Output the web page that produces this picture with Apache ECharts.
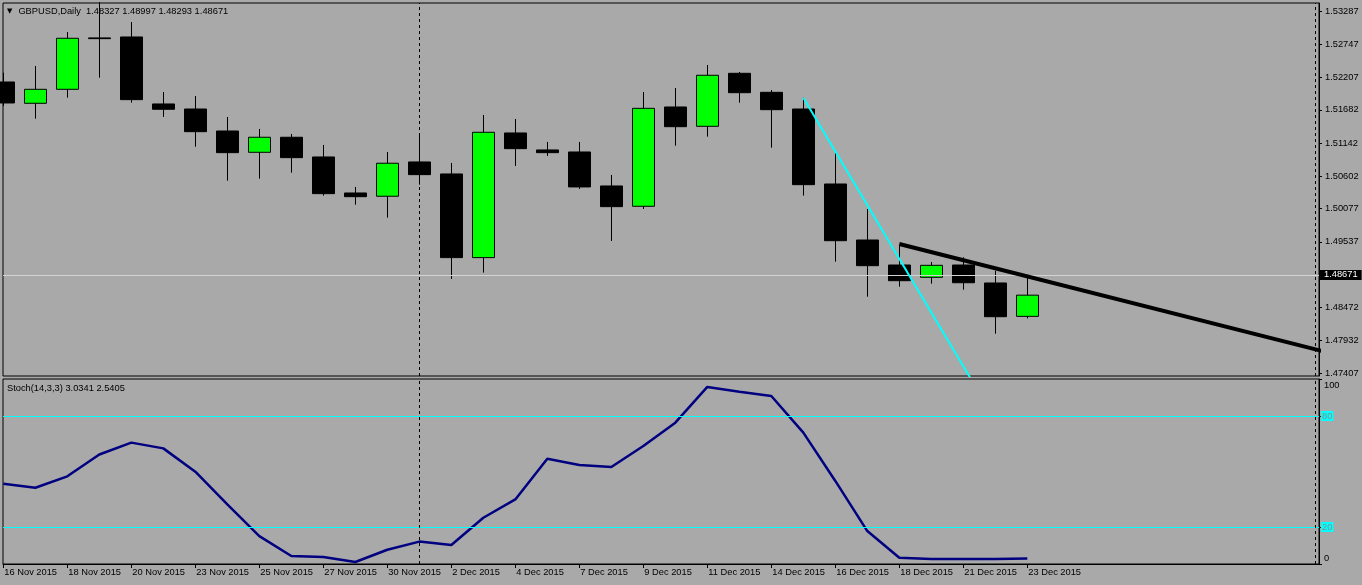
<!DOCTYPE html>
<html>
<head>
<meta charset="utf-8">
<script src="https://cdn.jsdelivr.net/npm/echarts@6/dist/echarts.min.js"></script>
<style>
html,body{margin:0;padding:0;background:#a9a9a9;}
#c{width:1362px;height:585px;}
</style>
</head>
<body>
<div id="c"></div>
<script>
// ---------- data ----------
const symbolName = 'GBPUSD,Daily';
const dates = ['16 Nov 2015','17 Nov 2015','18 Nov 2015','19 Nov 2015','20 Nov 2015','22 Nov 2015',
  '23 Nov 2015','24 Nov 2015','25 Nov 2015','26 Nov 2015','27 Nov 2015','29 Nov 2015','30 Nov 2015',
  '1 Dec 2015','2 Dec 2015','3 Dec 2015','4 Dec 2015','6 Dec 2015','7 Dec 2015','8 Dec 2015',
  '9 Dec 2015','10 Dec 2015','11 Dec 2015','13 Dec 2015','14 Dec 2015','15 Dec 2015','16 Dec 2015',
  '17 Dec 2015','18 Dec 2015','20 Dec 2015','21 Dec 2015','22 Dec 2015','23 Dec 2015'];
const opens  = [1.52134,1.51788,1.52015,1.52850,1.52865,1.51777,1.51695,1.51338,1.50992,1.51236,1.50916,
  1.50331,1.50278,1.50835,1.50640,1.49281,1.51306,1.51030,1.50997,1.50445,1.50115,1.51728,1.51414,
  1.52275,1.51966,1.51695,1.50477,1.49567,1.49161,1.48961,1.49161,1.48869,1.48327];
const highs  = [1.52285,1.52394,1.52946,1.53430,1.53108,1.51972,1.51907,1.51566,1.51371,1.51290,1.51111,
  1.50429,1.50997,1.51290,1.50819,1.51598,1.51533,1.51160,1.51160,1.50624,1.51972,1.52037,1.52410,
  1.52296,1.52004,1.51879,1.50980,1.50071,1.49486,1.49210,1.49286,1.49068,1.48997];
const lows   = [1.51744,1.51538,1.51879,1.52204,1.51798,1.51566,1.51083,1.50531,1.50564,1.50661,1.50288,
  1.50141,1.49930,1.50466,1.48935,1.49037,1.50770,1.50932,1.50396,1.49552,1.50071,1.51099,1.51246,
  1.51798,1.51066,1.50288,1.49215,1.48646,1.48809,1.48857,1.48760,1.48045,1.48293];
const closes = [1.51793,1.52015,1.52844,1.52838,1.51847,1.51691,1.51327,1.50986,1.51236,1.50905,1.50320,
  1.50271,1.50814,1.50629,1.49281,1.51317,1.51051,1.50986,1.50429,1.50109,1.51706,1.51408,1.52243,
  1.51960,1.51684,1.50466,1.49556,1.49150,1.48906,1.49156,1.48873,1.48321,1.48671];
const stochMain = [43.4,41.2,47.4,59.2,65.6,62.5,49.9,32.2,15.1,4.3,3.8,1.1,7.7,12.1,10.3,25.0,34.9,
  56.9,53.5,52.4,63.8,76.4,95.7,93.1,90.8,71.0,44.9,17.8,3.4,2.7,2.7,2.7,3.0341];
const stochSignalLast = 2.5405;
const stochLevels = [80, 20];
const stochTicks = [0, 20, 80, 100];
const priceTicks = [1.53287,1.52747,1.52207,1.51682,1.51142,1.50602,1.50077,1.49537,1.49012,1.48472,1.47932,1.47407];
const dateLabelIdx = [0,2,4,6,8,10,12,14,16,18,20,22,24,26,28,30,32];
const separators = [13, 41];
const trendCyan = [[25, 1.51879], [31, 1.46645]];
const trendBlack = [[28, 1.49502], [42, 1.47660]];
const priceMin = 1.47358, priceMax = 1.53417;
const xMin = -0.01, xMax = 41.115;

// ---------- chart ----------
const F = 'Liberation Sans';
const FS = 9.3;
const last = closes.length - 1;
const chart = echarts.init(document.getElementById('c'), null, {renderer: 'canvas'});
const candleData = dates.map((d, i) => [i, opens[i], closes[i], lows[i], highs[i]]);
const sepLines = separators.map(x => ({xAxis: x, lineStyle: {color: '#000', type: [3, 3], width: 1}, label: {show: false}}));

const option = {
  animation: false,
  backgroundColor: '#a9a9a9',
  title: [
    {left: 7, top: 7, padding: 0,
     text: '{tri|▼}' + symbolName + '  ' + [opens[last], highs[last], lows[last], closes[last]].map(v => v.toFixed(5)).join(' '),
     textStyle: {fontSize: FS, fontFamily: F, color: '#000', fontWeight: 'normal',
       rich: {tri: {fontSize: 7, fontFamily: 'DejaVu Sans', color: '#000', padding: [0, 6, 0, 0]}}}},
    {left: 7, top: 384, padding: 0,
     text: 'Stoch(14,3,3) ' + stochMain[last].toFixed(4) + ' ' + stochSignalLast.toFixed(4),
     textStyle: {fontSize: FS, fontFamily: F, color: '#000', fontWeight: 'normal'}}
  ],
  grid: [
    {left: 3, top: 3, width: 1316, height: 373, show: true, borderColor: '#000', borderWidth: 1, backgroundColor: 'transparent'},
    {left: 3, top: 379, width: 1316, height: 185, show: true, borderColor: '#000', borderWidth: 1, backgroundColor: 'transparent'}
  ],
  xAxis: [
    {type: 'value', gridIndex: 0, min: xMin, max: xMax, show: false},
    {type: 'value', gridIndex: 1, min: xMin, max: xMax,
     axisLine: {show: true, lineStyle: {color: '#000'}}, splitLine: {show: false},
     axisTick: {show: true, inside: false, customValues: dateLabelIdx, length: 4, lineStyle: {color: '#000'}},
     axisLabel: {show: true, customValues: dateLabelIdx, formatter: v => dates[Math.round(v)] || '',
       align: 'left', margin: 4, fontSize: FS, fontFamily: F, color: '#000', padding: [0, 0, 0, 1]}}
  ],
  yAxis: [
    {type: 'value', gridIndex: 0, position: 'right', min: priceMin, max: priceMax,
     splitLine: {show: false}, axisLine: {show: true, onZero: false, lineStyle: {color: '#000'}},
     axisTick: {show: true, inside: false, customValues: priceTicks, length: 3, lineStyle: {color: '#000'}},
     axisLabel: {show: true, customValues: priceTicks, formatter: v => v.toFixed(5),
       margin: 6, fontSize: FS, fontFamily: F, color: '#000'}},
    {type: 'value', gridIndex: 1, position: 'right', min: 0, max: 100,
     splitLine: {show: false}, axisLine: {show: true, onZero: false, lineStyle: {color: '#000'}},
     axisTick: {show: true, inside: false, customValues: stochTicks, length: 3, lineStyle: {color: '#000'}},
     axisLabel: {show: true, customValues: stochTicks, margin: 2, fontSize: FS, fontFamily: F, color: '#000',
       formatter: v => {
         if (v >= 100) return '{hi|' + v + '}';
         if (v <= 0) return '{lo|' + v + '}';
         return '{lv|' + v + '}';
       },
       rich: {
         hi: {fontSize: FS, fontFamily: F, color: '#000', padding: [12, 0, 0, 3]},
         lo: {fontSize: FS, fontFamily: F, color: '#000', padding: [0, 0, 12, 3]},
         lv: {fontSize: FS, fontFamily: F, color: '#8a8a8a', backgroundColor: '#00ffff', padding: [1, 1, 0, 1]}
       }}}
  ],
  series: [
    {type: 'candlestick', xAxisIndex: 0, yAxisIndex: 0, data: candleData,
     encode: {x: 0, y: [1, 2, 3, 4]}, barWidth: 23, clip: true, silent: true,
     itemStyle: {color: '#00ff00', color0: '#000000', borderColor: '#000000', borderColor0: '#000000', borderWidth: 1},
     markLine: {symbol: 'none', silent: true, animation: false,
       data: [
         {yAxis: closes[last], lineStyle: {color: '#d3d3d3', type: 'solid', width: 1},
          label: {show: true, position: 'end', distance: 1, formatter: () => closes[last].toFixed(5),
            backgroundColor: '#000', color: '#fff', fontSize: FS, fontFamily: F, padding: [1, 4, 0, 4]}}
       ].concat(sepLines)}},
    {type: 'line', xAxisIndex: 0, yAxisIndex: 0, data: trendCyan, symbol: 'none', clip: true, silent: true, z: 5,
     lineStyle: {color: '#00ffff', width: 2}},
    {type: 'line', xAxisIndex: 0, yAxisIndex: 0, data: trendBlack, symbol: 'none', clip: true, silent: true, z: 5,
     lineStyle: {color: '#000000', width: 4}},
    {type: 'line', xAxisIndex: 1, yAxisIndex: 1, data: stochMain.map((v, i) => [i, v]), symbol: 'none',
     clip: true, silent: true, z: 4,
     lineStyle: {color: '#000080', width: 2.5},
     markLine: {symbol: 'none', silent: true, animation: false,
       data: stochLevels.map(l => ({yAxis: l, lineStyle: {color: '#00ffff', type: 'solid', width: 1}, label: {show: false}}))
         .concat(sepLines)}}
  ]
};
chart.setOption(option);
</script>
</body>
</html>
